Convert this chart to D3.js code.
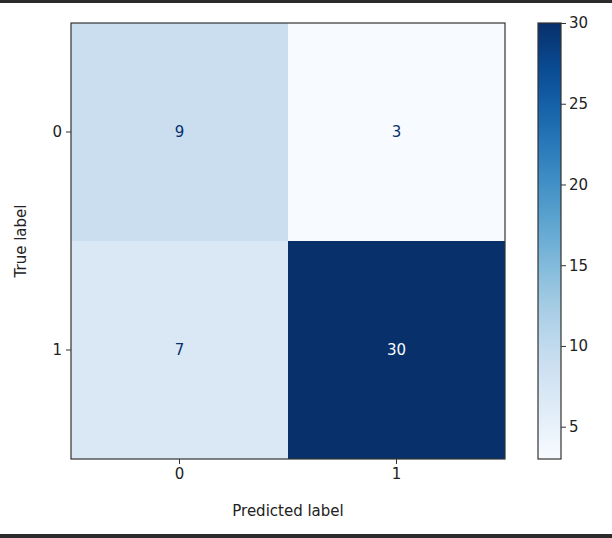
<!DOCTYPE html><html><head><meta charset="utf-8"><script src="https://cdn.jsdelivr.net/npm/d3@7"></script>
<style>body{margin:0;background:#fff}text{font-family:"DejaVu Sans",sans-serif}</style></head><body><script>
const classes=["0","1"];
const matrix=[[9,3],[7,30]];
const cbTicks=[5,10,15,20,25,30];
const W=612,H=538;
const svg=d3.select("body").append("svg").attr("width",W).attr("height",H);
svg.append("rect").attr("width",W).attr("height",3).attr("fill","#2b2b2b");
svg.append("rect").attr("y",534).attr("width",W).attr("height",4).attr("fill","#2b2b2b");
const L=71,R=505,T=23,B=459;
const x=d3.scaleBand().domain(classes).range([L,R]);
const y=d3.scaleBand().domain(classes).range([T,B]);
const vmin=3,vmax=30;
const col=v=>d3.interpolateBlues((v-vmin)/(vmax-vmin));
const cells=[];matrix.forEach((r,i)=>r.forEach((v,j)=>cells.push({i,j,v})));
svg.selectAll(".c").data(cells).join("rect").attr("x",d=>x(classes[d.j])).attr("y",d=>y(classes[d.i]))
 .attr("width",x.bandwidth()).attr("height",y.bandwidth()).attr("fill",d=>col(d.v));
svg.selectAll(".t").data(cells).join("text").attr("x",d=>x(classes[d.j])+x.bandwidth()/2).attr("y",d=>y(classes[d.i])+y.bandwidth()/2)
 .attr("text-anchor","middle").attr("dominant-baseline","central").attr("font-size",15)
 .attr("fill",d=>d.v>(vmin+vmax)/2?"#f7fbff":"#08306b").text(d=>d.v);
svg.append("rect").attr("x",L).attr("y",T).attr("width",R-L).attr("height",B-T).attr("fill","none").attr("stroke","#333").attr("stroke-width",1.2);
const ax=svg.append("g").attr("transform",`translate(0,${B})`).call(d3.axisBottom(x).tickSize(5).tickPadding(4));
const ay=svg.append("g").attr("transform",`translate(${L},0)`).call(d3.axisLeft(y).tickSize(5).tickPadding(4));
[ax,ay].forEach(a=>{a.select(".domain").remove();a.selectAll("text").attr("font-size",15).attr("fill","#222").attr("font-family","DejaVu Sans");a.selectAll("line").attr("stroke","#333")});
svg.append("text").attr("x",(L+R)/2).attr("y",516).attr("text-anchor","middle").attr("font-size",15).attr("fill","#222").text("Predicted label");
svg.append("text").attr("transform",`translate(26,${(T+B)/2}) rotate(-90)`).attr("text-anchor","middle").attr("font-size",15).attr("fill","#222").text("True label");
// colorbar
const cx=538,cw=23;
const cs=d3.scaleLinear().domain([vmin,vmax]).range([B,T]);
const defs=svg.append("defs");const g=defs.append("linearGradient").attr("id","g").attr("x1",0).attr("y1",1).attr("x2",0).attr("y2",0);
d3.range(0,1.001,0.05).forEach(t=>g.append("stop").attr("offset",t).attr("stop-color",d3.interpolateBlues(t)));
svg.append("rect").attr("x",cx).attr("y",T).attr("width",cw).attr("height",B-T).attr("fill","url(#g)").attr("stroke","#333").attr("stroke-width",1.2);
const ac=svg.append("g").attr("transform",`translate(${cx+cw},0)`).call(d3.axisRight(cs).tickValues(cbTicks).tickSize(5).tickPadding(3));
ac.select(".domain").remove();ac.selectAll("text").attr("font-size",15).attr("fill","#222").attr("font-family","DejaVu Sans");ac.selectAll("line").attr("stroke","#333");
</script></body></html>
